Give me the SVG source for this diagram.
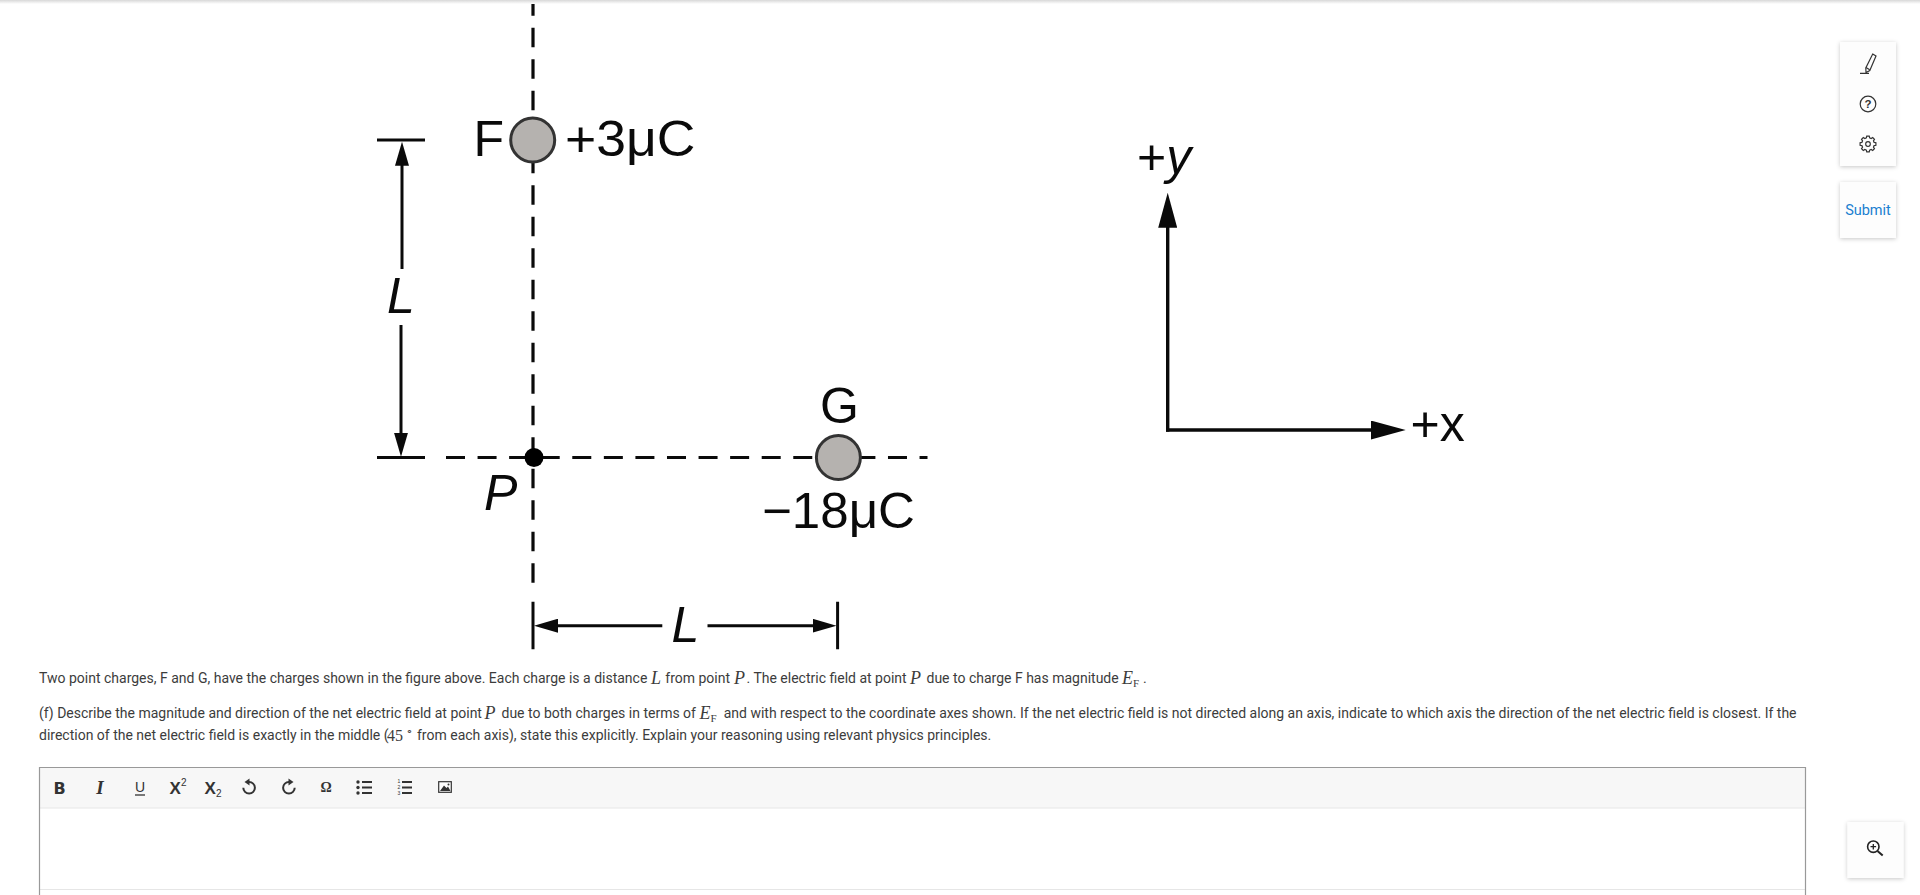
<svg xmlns="http://www.w3.org/2000/svg" width="1920" height="895" viewBox="0 0 1920 895">
<style>
.fig{font-family:"Liberation Sans",Arial,sans-serif;font-size:50px;fill:#0a0a0a}
.it{font-style:italic}
.body{font-family:Roboto,"Liberation Sans",sans-serif;font-size:14px;fill:#3c3c3c}
.m{font-family:"Liberation Serif","Times New Roman",serif;font-size:18px;font-style:italic;fill:#3c3c3c}
.mr{font-family:"Liberation Serif","Times New Roman",serif;font-size:11px;fill:#3c3c3c}
.dash{fill:none;stroke:#0a0a0a;stroke-width:3.2}
.ln{fill:none;stroke:#0a0a0a;stroke-width:3}
.ax{fill:none;stroke:#0a0a0a;stroke-width:3.4;stroke-linecap:square}
.charge{fill:#b5b2af;stroke:#333;stroke-width:3}
.panel{fill:#fdfdfd;filter:url(#sh)}
.ic{fill:none;stroke:#333;stroke-width:1.2}
.tb{fill:none;stroke:#333;stroke-width:2}
.tbt{font-family:"Liberation Sans",sans-serif;font-weight:bold;font-size:17px;fill:#333;text-anchor:middle}
</style>
<defs>
<filter id="sh" x="-20%" y="-20%" width="140%" height="140%"><feDropShadow dx="0" dy="1" stdDeviation="2" flood-color="#000" flood-opacity="0.22"/></filter>
<linearGradient id="top" x1="0" y1="0" x2="0" y2="1"><stop offset="0" stop-color="#d8d8d8"/><stop offset="1" stop-color="#ffffff"/></linearGradient>
<marker id="a" markerUnits="userSpaceOnUse" markerWidth="24" markerHeight="14" viewBox="0 0 24 14" refX="10" refY="7" orient="auto"><path d="M0 0L24 7L0 14Z" fill="#0a0a0a"/></marker>
<marker id="b" markerUnits="userSpaceOnUse" markerWidth="35" markerHeight="19" viewBox="0 0 35 19" refX="15" refY="9.5" orient="auto"><path d="M0 0L35 9.5L0 19Z" fill="#0a0a0a"/></marker>
</defs>
<rect width="1920" height="895" fill="#fff"/>

<g id="connectors">
<path class="dash" d="M533-3.8V584.5" stroke-dasharray="19.5 12"/>
<path class="dash" d="M446 457.5H927.5" stroke-dasharray="19 12.57"/>
<path class="ln" d="M377 140H425M377 457.5H425M533 601.7V649.3M837.6 601.7V649.3"/>
<path class="ln" d="M402 269V155.7" marker-end="url(#a)"/>
<path class="ln" d="M401 325V442.7" marker-end="url(#a)"/>
<path class="ln" d="M662.3 625.7H548" marker-end="url(#a)"/>
<path class="ln" d="M707.5 625.7H822.5" marker-end="url(#a)"/>
<path class="ax" d="M1167.7 430V212.7" marker-end="url(#b)"/>
<path class="ax" d="M1167.7 430H1385.7" marker-end="url(#b)"/>
</g>
<rect width="1920" height="4" fill="url(#top)"/>

<g id="charge-F"><circle class="charge" cx="532.7" cy="140" r="22"/><text class="fig" x="473.5" y="155.7">F</text><text class="fig" x="565" y="155.7" textLength="130.5" lengthAdjust="spacingAndGlyphs">+3μC</text></g>
<g id="charge-G"><circle class="charge" cx="838.4" cy="457.5" r="22"/><text class="fig" x="820" y="423">G</text><text class="fig" x="762" y="528.3" textLength="153" lengthAdjust="spacingAndGlyphs">−18μC</text></g>
<g id="point-P"><circle cx="534" cy="457.5" r="9.5" fill="#000"/><text class="fig it" x="484" y="510">P</text></g>
<g id="label-L-vertical"><text class="fig it" x="387" y="313">L</text></g>
<g id="label-L-horizontal"><text class="fig it" x="671.5" y="641.7">L</text></g>
<g id="axis-labels"><text class="fig" x="1137" y="174">+<tspan class="it">y</tspan></text><text class="fig" x="1410.5" y="441">+x</text></g>

<g id="question">
<text class="body" x="39" y="683">Two point charges, F and G, have the charges shown in the figure above. Each charge is a distance</text>
<text class="m" x="651" y="684">L</text>
<text class="body" x="665.3" y="683">from point</text>
<text class="m" x="734" y="684">P</text>
<text class="body" x="746.5" y="683">. The electric field at point</text>
<text class="m" x="910" y="684">P</text>
<text class="body" x="926.5" y="683">due to charge F has magnitude</text>
<text class="m" x="1122" y="684">E</text>
<text class="mr" x="1133" y="687">F</text>
<text class="body" x="1143" y="683">.</text>

<text class="body" x="39" y="718">(f) Describe the magnitude and direction of the net electric field at point</text>
<text class="m" x="484.500" y="719">P</text>
<text class="body" x="501.5" y="718">due to both charges in terms of</text>
<text class="m" x="699.500" y="719">E</text>
<text class="mr" x="710.5" y="722">F</text>
<text class="body" x="723.7" y="718">and with respect to the coordinate axes shown. If the net electric field is not directed along an axis, indicate to which axis the direction of the net electric field is closest. If the</text>

<text class="body" x="39" y="740">direction of the net electric field is exactly in the middle (</text>
<text class="mr" style="font-size:16px" x="387" y="741">45</text>
<text class="mr" x="406" y="735">∘</text>
<text class="body" x="417" y="740">from each axis), state this explicitly. Explain your reasoning using relevant physics principles.</text>
</g>

<g id="editor">
<rect x="39.5" y="767.5" width="1766" height="140" fill="#fff"/>
<rect x="39.5" y="767.5" width="1766" height="40.5" fill="#f7f7f7"/>
<path d="M40 808H1805M40 889.5H1805" stroke="#e6e6e6" fill="none"/>
<path d="M39.5 900V767.5H1805.5V900" stroke="#999" stroke-width="1.2" fill="none"/>
<text class="tbt" x="59.5" y="793.500" style="font-family:'DejaVu Sans',sans-serif;font-size:16px">B</text>
<text x="100" y="794" style="font-family:'Liberation Serif',serif;font-style:italic;font-weight:bold;font-size:19px;fill:#333;text-anchor:middle">I</text>
<text x="140" y="792" style="font-family:'Liberation Sans',sans-serif;font-size:14px;fill:#333;text-anchor:middle">U</text>
<path d="M135 795H145" stroke="#333" stroke-width="1.3"/>
<text class="tbt" x="178" y="793.500">X<tspan dy="-8" style="font-size:10px;font-weight:normal">2</tspan></text>
<text class="tbt" x="213" y="793.500">X<tspan dy="3" style="font-size:10px;font-weight:normal">2</tspan></text>
<g id="undo"><path class="tb" d="M249 782A5.8 5.8 0 1 1 243.3 787.8"/><path d="M249.5 778.5V785.5L244.5 782Z" fill="#333"/></g>
<g id="redo"><path class="tb" d="M289 782A5.8 5.8 0 1 0 294.7 787.8"/><path d="M288.500 778.500V785.5L293.500 782Z" fill="#333"/></g>
<text x="326" y="792" style="font-family:'Liberation Serif',serif;font-weight:bold;font-size:14px;fill:#333;text-anchor:middle">Ω</text>
<g id="bullets"><path class="tb" d="M362 782H372M362 787.500H372M362 793H372"/><circle cx="358" cy="782" r="1.700" fill="#333"/><circle cx="358" cy="787.500" r="1.700" fill="#333"/><circle cx="358" cy="793" r="1.700" fill="#333"/></g>
<g id="numbers"><path class="tb" d="M402 782H412M402 787.500H412M402 793H412"/><text x="399" y="783" style="font-family:'Liberation Sans',sans-serif;font-size:5px;fill:#333;text-anchor:middle">1</text><text x="399" y="789" style="font-family:'Liberation Sans',sans-serif;font-size:5px;fill:#333;text-anchor:middle">2</text><text x="399" y="795" style="font-family:'Liberation Sans',sans-serif;font-size:5px;fill:#333;text-anchor:middle">3</text></g>
<g id="image-icon"><rect x="438.700" y="781.700" width="12.600" height="10.600" fill="#fff" stroke="#333" stroke-width="1.200"/><path d="M440 791L444 785.500L446.500 788L448 786.500L450.500 791Z" fill="#333"/><circle cx="448.500" cy="784.500" r="1" fill="#333"/></g>
</g>

<g id="tools-panel">
<rect class="panel" x="1840" y="42" width="56" height="124"/>
<g id="pen"><path class="ic" d="M1872.700 54L1876 56L1869.800 70.500L1866 72.500L1865.800 68Z"/><path class="ic" d="M1860 73.300H1869M1866 67.500L1869.700 69.800"/></g>
<g id="help"><circle class="ic" cx="1868" cy="104" r="7.800"/><text x="1868" y="108.300" style="font-family:'Liberation Sans',sans-serif;font-weight:bold;font-size:11.500px;fill:#333;text-anchor:middle">?</text></g>
<g id="gear" transform="translate(1868 144)"><path class="ic" stroke-width="1" d="M6.090-1.630L7.900-1.250L7.900 1.250L6.090 1.630L5.460 3.150L6.470 4.700L4.700 6.470L3.150 5.460L1.630 6.090L1.250 7.900L-1.250 7.900L-1.630 6.090L-3.150 5.460L-4.700 6.470L-6.470 4.700L-5.460 3.150L-6.090 1.630L-7.900 1.250L-7.900-1.250L-6.090-1.630L-5.460-3.150L-6.470-4.700L-4.700-6.470L-3.150-5.460L-1.630-6.090L-1.250-7.900L1.250-7.900L1.630-6.090L3.150-5.460L4.700-6.470L6.470-4.700L5.460-3.150Z"/><circle class="ic" r="2.300"/></g>
</g>
<g id="submit"><rect class="panel" x="1840" y="182" width="56" height="56"/><text x="1868" y="215" style="font-family:Roboto,'Liberation Sans',sans-serif;font-size:14.500px;fill:#1a7fd0;text-anchor:middle">Submit</text></g>
<g id="zoom-button"><rect class="panel" x="1847.500" y="822" width="56" height="56"/><circle cx="1873.300" cy="846.700" r="5.700" fill="none" stroke="#222" stroke-width="1.600"/><path d="M1877.500 851L1882.700 855.500" stroke="#222" stroke-width="2" fill="none"/><path d="M1870.500 846.700H1876.100M1873.300 843.900V849.500" stroke="#222" stroke-width="1.300" fill="none"/></g>
</svg>
